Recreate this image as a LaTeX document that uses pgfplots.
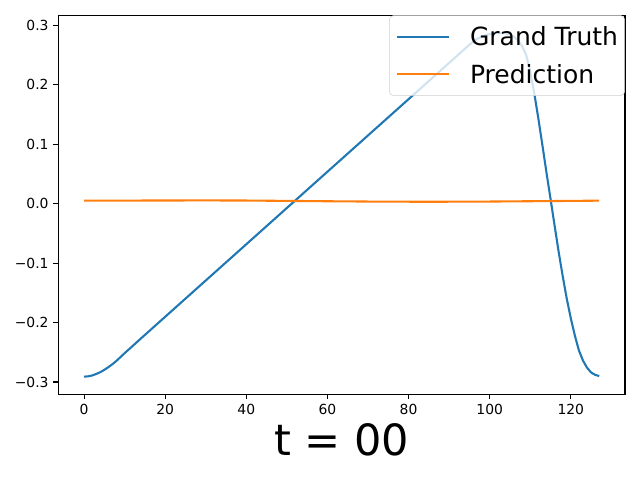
\documentclass[border=0pt]{standalone}
\usepackage{fontspec}
\setmainfont{DejaVu Sans}
\usepackage{pgfplots}
\pgfplotsset{compat=1.18}
\definecolor{mblue}{HTML}{1F77B4}
\definecolor{morange}{HTML}{FF7F0E}
\begin{document}
\begin{tikzpicture}[x=1pt,y=1pt]
\useasboundingbox (0,0) rectangle (460.8,345.6);
\begin{axis}[
  at={(41.98pt,61.7pt)}, anchor=south west,
  scale only axis, width=408.0pt, height=272.9pt,
  xmin=-6.35, xmax=133.35, ymin=-0.3207, ymax=0.3168,
  axis line style={line width=0.8pt},
  tick align=outside, major tick length=3.5pt,
  tick style={black, line width=0.8pt},
  xtick pos=bottom, ytick pos=left,
  xtick={0,20,40,60,80,100,120},
  xticklabels={0,20,40,60,80,100,120},
  ytick={-0.3,-0.2,-0.1,0,0.1,0.2,0.3},
  yticklabels={−0.3,−0.2,−0.1,0.0,0.1,0.2,0.3},
  ticklabel style={font=\fontsize{10}{12}\selectfont},
  xlabel={t = 00},
  xlabel style={at={(rel axis cs:0.5,0)}, anchor=base, yshift=-44.4pt, inner sep=0pt, font=\fontsize{31}{31}\selectfont},
  legend cell align=left,
  legend image code/.code={\draw[#1, line width=1.5pt] (0pt,0pt) -- (37.4pt,0pt);},
  legend style={at={(rel axis cs:1,1)}, anchor=north east, draw=black!18, rounded corners=3pt, fill=white, fill opacity=0.8, text opacity=1,
    font=\fontsize{18}{21.6}\selectfont, inner xsep=4.8pt, inner ysep=8.0pt, row sep=11.8pt,
    /tikz/column 1/.style={column sep=14.4pt},
    nodes={inner sep=0pt, text height=13.9pt, text depth=1.0pt}},
]
\addplot[mblue, line width=1.5pt, line join=round] coordinates {
(0,-0.291) (1,-0.2905) (2,-0.289) (3,-0.2865) (4,-0.2835) (5,-0.2795) (6,-0.275) (7,-0.270) (8,-0.2643) (9,-0.2580) (10,-0.2515) (12,-0.2393)
(14,-0.2269) (16,-0.2147) (20,-0.1903) (24,-0.1659) (28,-0.1415) (32,-0.1171) (36,-0.0927) (40,-0.0683) (44,-0.0439) (48,-0.0195)
(52,0.0049) (56,0.0293) (60,0.0537) (64,0.0781) (68,0.1025) (72,0.1269) (76,0.1513) (80,0.1757) (84,0.2001) (88,0.2245) (92,0.2489)
(95,0.2672) (97,0.2775) (99,0.2835) (101,0.2865) (103,0.2870) (104,0.2860) (105,0.2840) (106,0.2805) (107,0.2745) (108,0.2650)
(109,0.250) (110,0.222) (111,0.185) (112,0.143) (113,0.098) (114,0.052) (115,0.008) (116,-0.037) (117,-0.081) (118,-0.122)
(119,-0.160) (120,-0.193) (121,-0.222) (122,-0.247) (123,-0.264) (124,-0.276) (125,-0.284) (126,-0.288) (127,-0.290)
};
\addlegendentry{Grand Truth}
\addplot[morange, line width=1.5pt, line join=round] coordinates {
(0,0.0050) (15,0.0052) (30,0.0054) (40,0.0052) (50,0.0046) (60,0.0040) (70,0.0035) (85,0.0031) (100,0.0035) (115,0.0043) (127,0.0050)
};
\addlegendentry{Prediction}
\end{axis}
\end{tikzpicture}
\end{document}
